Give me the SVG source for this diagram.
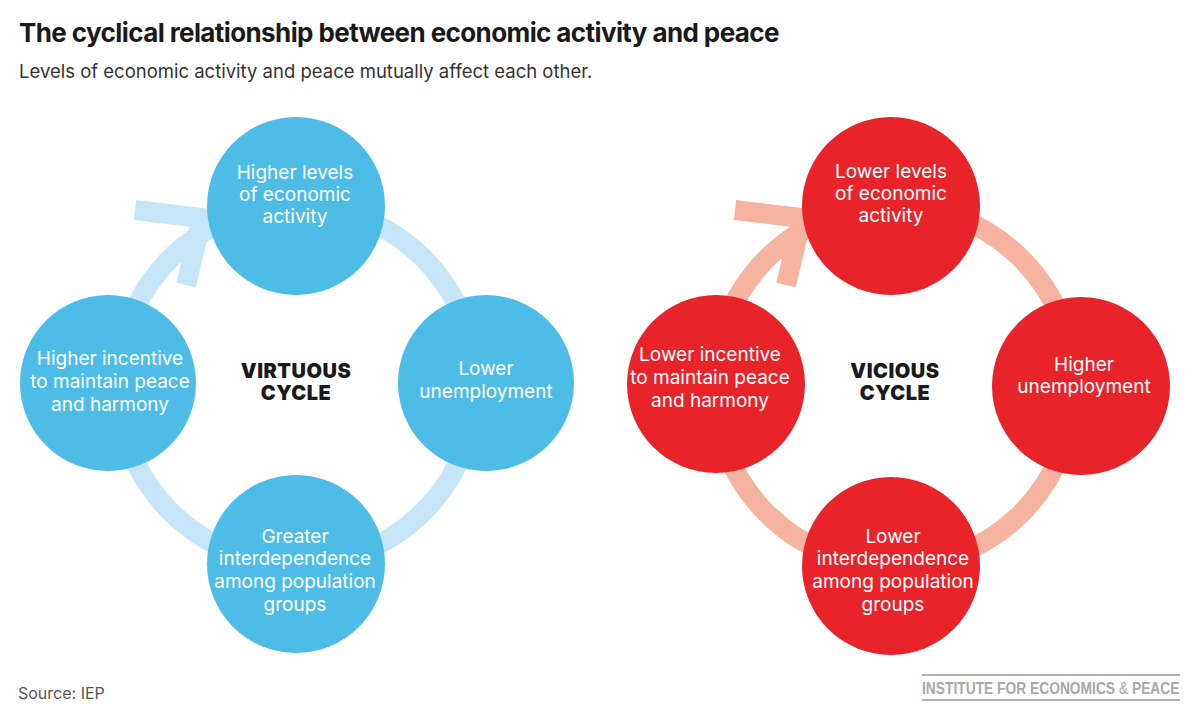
<svg xmlns="http://www.w3.org/2000/svg" width="1200" height="722" viewBox="0 0 1200 722">
<style>
.title{font-family:Inter,"Liberation Sans",sans-serif;font-weight:700;font-size:26px;fill:#1a1a1a;letter-spacing:-0.6px}
.sub{font-family:Inter,"Liberation Sans",sans-serif;font-size:18.5px;fill:#333}
.lbl{font-family:Inter,"Liberation Sans",sans-serif;font-size:19px;fill:#fff;text-anchor:middle}
.ctr{font-family:Inter,"Liberation Sans",sans-serif;font-weight:900;font-size:20px;fill:#1a1a1a;text-anchor:middle;letter-spacing:0.5px}
.blue{fill:#4dbde8}
.red{fill:#e8232a}
.ringB{fill:none;stroke:#c6e5f6;stroke-width:20}
.ringR{fill:none;stroke:#f6b39f;stroke-width:20}
.src{font-family:Inter,"Liberation Sans",sans-serif;font-size:16px;fill:#555}
.logo{font-family:"Liberation Sans",sans-serif;font-weight:700;font-size:13.8px;fill:#a8a8a8}
</style>
<rect width="1200" height="722" fill="#fff"/>
<text class="title" x="19" y="42">The cyclical relationship between economic activity and peace</text>
<text class="sub" x="19" y="78">Levels of economic activity and peace mutually affect each other.</text>
<g id="connectors">
<circle class="ringB" cx="297" cy="385" r="179"/>
<polyline class="ringB" points="135,210 202,218 186,285" stroke-linejoin="miter"/>
<circle class="ringR" cx="894" cy="386" r="180"/>
<polyline class="ringR" points="735,210 802,218 786,285" stroke-linejoin="miter"/>
</g>
<g id="v-top"><circle class="blue" cx="296" cy="206" r="89"/>
<text class="lbl" x="295" y="179">Higher levels</text><text class="lbl" x="295" y="201">of economic</text><text class="lbl" x="295" y="223">activity</text></g>
<g id="v-right"><circle class="blue" cx="486" cy="383" r="88"/>
<text class="lbl" x="486" y="375">Lower</text><text class="lbl" x="486" y="398">unemployment</text></g>
<g id="v-bottom"><circle class="blue" cx="296" cy="564" r="89"/>
<text class="lbl" x="295" y="543">Greater</text><text class="lbl" x="295" y="565">interdependence</text><text class="lbl" x="295" y="588">among population</text><text class="lbl" x="295" y="611">groups</text></g>
<g id="v-left"><circle class="blue" cx="108" cy="383" r="88"/>
<text class="lbl" x="110" y="365">Higher incentive</text><text class="lbl" x="110" y="388">to maintain peace</text><text class="lbl" x="110" y="411">and harmony</text></g>
<g id="v-center"><text class="ctr" x="296" y="378">VIRTUOUS</text><text class="ctr" x="296" y="400">CYCLE</text></g>
<g id="c-top"><circle class="red" cx="891" cy="206" r="89"/>
<text class="lbl" x="891" y="178">Lower levels</text><text class="lbl" x="891" y="200">of economic</text><text class="lbl" x="891" y="222">activity</text></g>
<g id="c-right"><circle class="red" cx="1081" cy="386" r="89"/>
<text class="lbl" x="1084" y="371">Higher</text><text class="lbl" x="1084" y="393">unemployment</text></g>
<g id="c-bottom"><circle class="red" cx="891" cy="566" r="89"/>
<text class="lbl" x="893" y="543">Lower</text><text class="lbl" x="893" y="565">interdependence</text><text class="lbl" x="893" y="588">among population</text><text class="lbl" x="893" y="611">groups</text></g>
<g id="c-left"><circle class="red" cx="716" cy="384" r="89"/>
<text class="lbl" x="710" y="361">Lower incentive</text><text class="lbl" x="710" y="384">to maintain peace</text><text class="lbl" x="710" y="407">and harmony</text></g>
<g id="c-center"><text class="ctr" x="895" y="378">VICIOUS</text><text class="ctr" x="895" y="400">CYCLE</text></g>
<text class="src" x="18" y="699">Source: IEP</text>
<g id="logo">
<line x1="922" y1="675" x2="1180" y2="675" stroke="#b0b0b0" stroke-width="2"/>
<line x1="922" y1="700" x2="1180" y2="700" stroke="#b0b0b0" stroke-width="2"/>
<text class="logo" transform="translate(922,694) scale(1,1.25)" x="0" y="0">INSTITUTE FOR ECONOMICS <tspan font-weight="400">&amp;</tspan> PEACE</text>
</g>
</svg>
